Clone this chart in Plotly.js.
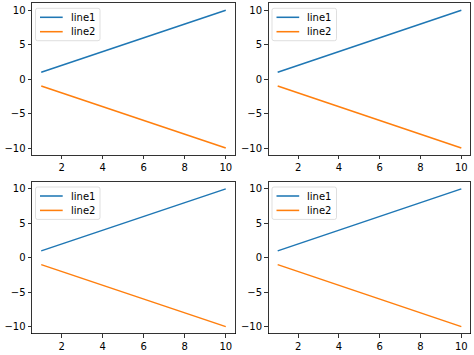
<!DOCTYPE html>
<html>
<head>
<meta charset="utf-8">
<script src="https://cdn.plot.ly/plotly-3.0.1.min.js"></script>
<style>html,body{margin:0;padding:0;background:#fff;}#chart{width:474px;height:355px;}</style>
</head>
<body>
<div id="chart"></div>
<script>
const xValues = [1, 2, 3, 4, 5, 6, 7, 8, 9, 10];
const line1 = [1, 2, 3, 4, 5, 6, 7, 8, 9, 10];
const line2 = [-1, -2, -3, -4, -5, -6, -7, -8, -9, -10];
const seriesNames = ['line1', 'line2'];
const xTicks = [2, 4, 6, 8, 10];
const yTicks = [-10, -5, 0, 5, 10];
const yTickLabels = ['\u221210', '\u22125', '0', '5', '10'];

const W = 474, H = 355;
const colors = ['#1f77b4', '#ff7f0e'];
const font = {family: 'DejaVu Sans', size: 10, color: '#000'};

// panel boxes in pixels: [left, right, top, bottom]
const panels = [
  [32, 235, 3.3, 155],
  [268.5, 470.5, 3.3, 155],
  [32, 235, 182, 333.5],
  [268.5, 470.5, 182, 333.5]
];

const px = v => v / W;
const py = v => 1 - v / H;

const data = [];
const shapes = [];
const annotations = [];
const layout = {
  width: W, height: H,
  margin: {l: 0, r: 0, t: 0, b: 0},
  paper_bgcolor: '#fff', plot_bgcolor: '#fff',
  font: font,
  showlegend: false
};

function roundedRect(x0, y0, x1, y1, r) {
  // pixel coords -> paper path with quadratic corners
  const P = (x, y) => px(x) + ',' + py(y);
  return 'M' + P(x0 + r, y0) + ' L' + P(x1 - r, y0) + ' Q' + P(x1, y0) + ' ' + P(x1, y0 + r) +
    ' L' + P(x1, y1 - r) + ' Q' + P(x1, y1) + ' ' + P(x1 - r, y1) +
    ' L' + P(x0 + r, y1) + ' Q' + P(x0, y1) + ' ' + P(x0, y1 - r) +
    ' L' + P(x0, y0 + r) + ' Q' + P(x0, y0) + ' ' + P(x0 + r, y0) + ' Z';
}

panels.forEach((p, i) => {
  const n = i + 1;
  const xa = n === 1 ? 'x' : 'x' + n;
  const ya = n === 1 ? 'y' : 'y' + n;
  [line1, line2].forEach((ys, k) => {
    data.push({
      x: xValues, y: ys, type: 'scatter', mode: 'lines',
      name: seriesNames[k], xaxis: xa, yaxis: ya,
      line: {color: colors[k], width: 1.55},
      hoverinfo: 'skip'
    });
  });
  const axCommon = {
    showgrid: false, zeroline: false, showline: true, mirror: true,
    linecolor: '#000', linewidth: 0.8, ticks: 'outside', ticklen: 3.6,
    tickwidth: 0.8, tickcolor: '#000', tickfont: font, fixedrange: true
  };
  layout[n === 1 ? 'xaxis' : 'xaxis' + n] = Object.assign({}, axCommon, {
    domain: [p[0] / W, p[1] / W], anchor: ya,
    range: [0.55, 10.45], tickmode: 'array', tickvals: xTicks,
    ticktext: xTicks.map(String)
  });
  layout[n === 1 ? 'yaxis' : 'yaxis' + n] = Object.assign({}, axCommon, {
    domain: [1 - p[3] / H, 1 - p[2] / H], anchor: xa,
    range: [-11, 11], tickmode: 'array', tickvals: yTicks,
    ticktext: yTickLabels
  });

  // legend (matplotlib style, upper left)
  const L = p[0], T = p[2];
  shapes.push({
    type: 'path', xref: 'paper', yref: 'paper', layer: 'above',
    path: roundedRect(L + 3.5, T + 5, L + 68, T + 37.4, 2),
    fillcolor: 'rgba(255,255,255,0.8)',
    line: {color: 'rgba(204,204,204,0.8)', width: 0.8}
  });
  seriesNames.forEach((name, k) => {
    const rowY = T + 14 + k * 14.4;
    shapes.push({
      type: 'line', xref: 'paper', yref: 'paper', layer: 'above',
      x0: px(L + 8), x1: px(L + 30.7), y0: py(rowY), y1: py(rowY),
      line: {color: colors[k], width: 1.55}
    });
    annotations.push({
      xref: 'paper', yref: 'paper', x: px(L + 36.7), y: py(rowY),
      xanchor: 'left', yanchor: 'middle', text: name, showarrow: false,
      font: font
    });
  });
});

layout.shapes = shapes;
layout.annotations = annotations;

Plotly.newPlot('chart', data, layout, {displayModeBar: false, staticPlot: true});
</script>
</body>
</html>
